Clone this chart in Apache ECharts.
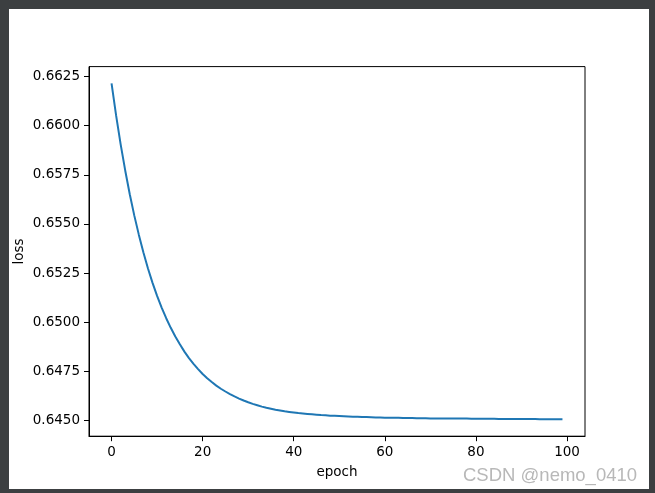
<!DOCTYPE html>
<html>
<head>
<meta charset="utf-8">
<script src="https://cdn.jsdelivr.net/npm/echarts@6/dist/echarts.min.js"></script>
<style>
html,body{margin:0;padding:0;background:#3c3f41;}
#c{width:655px;height:493px;}
</style>
</head>
<body>
<div id="c"></div>
<script>
const epochs = [];
for (let i = 0; i < 100; i++) epochs.push(i);
const lossValues = [
0.66215,0.66052,0.65905,0.65772,0.65651,0.65542,0.65444,0.65354,0.65273,0.65200,
0.65134,0.65074,0.65020,0.64971,0.64927,0.64887,0.64850,0.64817,0.64788,0.64761,
0.64736,0.64714,0.64695,0.64677,0.64661,0.64647,0.64634,0.64622,0.64611,0.64601,
0.64592,0.64584,0.64577,0.64570,0.64564,0.64559,0.64554,0.64550,0.64546,0.64543,
0.64540,0.64537,0.64535,0.64533,0.64531,0.64529,0.64527,0.64526,0.64524,0.64523,
0.64522,0.64521,0.64520,0.64519,0.64518,0.64517,0.64517,0.64516,0.64515,0.64515,
0.64514,0.64514,0.64513,0.64513,0.64512,0.64512,0.64512,0.64511,0.64511,0.64511,
0.64510,0.64510,0.64510,0.64510,0.64509,0.64509,0.64509,0.64509,0.64509,0.64508,
0.64508,0.64508,0.64508,0.64508,0.64508,0.64507,0.64507,0.64507,0.64507,0.64507,
0.64507,0.64507,0.64507,0.64507,0.64506,0.64506,0.64506,0.64506,0.64506,0.64506
];
const xTicks = [0, 20, 40, 60, 80, 100];
const yTicks = [0.6450, 0.6475, 0.6500, 0.6525, 0.6550, 0.6575, 0.6600, 0.6625];
const xLabel = 'epoch';
const yLabel = 'loss';
const watermark = 'CSDN @nemo_0410';

const chart = echarts.init(document.getElementById('c'), null, {renderer: 'canvas'});
const font = 'DejaVu Sans';
chart.setOption({
  backgroundColor: '#3c3f41',
  animation: false,
  graphic: [
    {type: 'rect', z: -10, silent: true, shape: {x: 9, y: 9, width: 640, height: 480}, style: {fill: '#ffffff'}},
    {type: 'text', z: 10, silent: true, left: 463, top: 466,
     style: {text: watermark, fill: '#b8b8b8', font: '18.5px "Liberation Sans", Arial, sans-serif'}}
  ],
  grid: {left: 89, top: 66.6, width: 496, height: 369.6, show: true, borderColor: '#000', borderWidth: 1, backgroundColor: 'transparent'},
  xAxis: {
    type: 'value', min: -4.95, max: 103.95,
    name: xLabel, nameLocation: 'middle', nameGap: 29, nameMoveOverlap: false,
    nameTextStyle: {fontFamily: font, fontSize: 13.5, color: '#000'},
    splitLine: {show: false},
    axisLine: {show: true, onZero: false, lineStyle: {color: '#000', width: 1}},
    axisTick: {show: true, length: 5, inside: false, customValues: xTicks, lineStyle: {color: '#000'}},
    axisLabel: {show: true, margin: 9, customValues: xTicks, fontFamily: font, fontSize: 13.5, color: '#000', formatter: v => String(Math.round(v))}
  },
  yAxis: {
    type: 'value', min: 0.644195, max: 0.663005,
    name: yLabel, nameLocation: 'middle', nameGap: 63, nameRotate: 90, nameMoveOverlap: false,
    nameTextStyle: {fontFamily: font, fontSize: 13.5, color: '#000'},
    splitLine: {show: false},
    axisLine: {show: true, onZero: false, lineStyle: {color: '#000', width: 1}},
    axisTick: {show: true, length: 5, inside: false, customValues: yTicks, lineStyle: {color: '#000'}},
    axisLabel: {show: true, margin: 9, customValues: yTicks, fontFamily: font, fontSize: 13.5, color: '#000', formatter: v => v.toFixed(4)}
  },
  series: [{
    type: 'line',
    data: epochs.map((e, i) => [e, lossValues[i]]),
    showSymbol: false,
    lineStyle: {color: '#1f77b4', width: 2},
    itemStyle: {color: '#1f77b4'}
  }]
});
</script>
</body>
</html>
